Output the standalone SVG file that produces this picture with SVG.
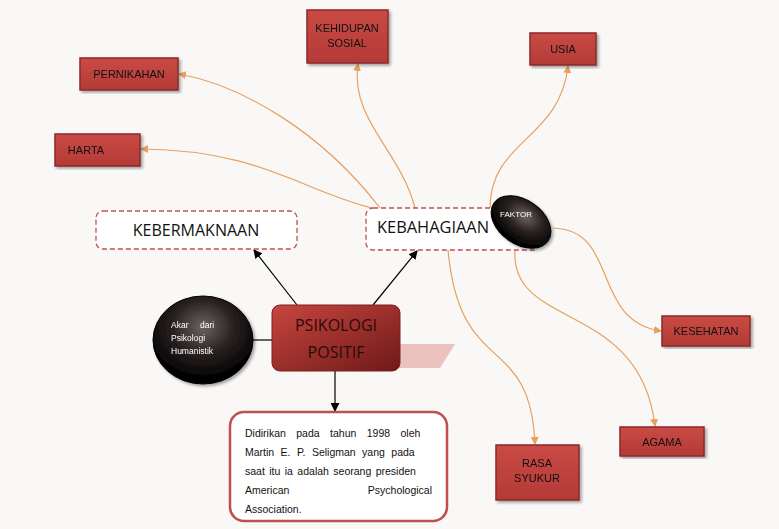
<svg xmlns="http://www.w3.org/2000/svg" width="779" height="529" viewBox="0 0 779 529">
<defs>
<style>
.box{fill:url(#rg);stroke:#8a2a2a;stroke-width:1.5}
.lbl{font-family:"Liberation Sans",Arial,sans-serif;font-size:11px;fill:#111;text-anchor:middle}
.dash{fill:#fff;stroke:#c0504d;stroke-width:1.3;stroke-dasharray:5,3}
.oc{fill:none;stroke:#e8a060;stroke-width:1.2;marker-end:url(#oa)}
.bc{fill:none;stroke:#000;stroke-width:1.2;marker-end:url(#ba)}
</style>
<linearGradient id="rg" x1="0" y1="0" x2="0" y2="1"><stop offset="0" stop-color="#c94a45"/><stop offset="1" stop-color="#b43a36"/></linearGradient>
<linearGradient id="pg" x1="0" y1="0" x2="1" y2="1"><stop offset="0" stop-color="#c8453f"/><stop offset="1" stop-color="#6e1a18"/></linearGradient>
<radialGradient id="eg" cx="0.5" cy="0.35" r="0.6"><stop offset="0" stop-color="#6b6462"/><stop offset="0.5" stop-color="#2a2222"/><stop offset="1" stop-color="#000"/></radialGradient>
<marker id="oa" markerWidth="8" markerHeight="8" refX="7" refY="4" orient="auto" markerUnits="userSpaceOnUse"><path d="M0,0L8,4L0,8z" fill="#e8a060"/></marker>
<marker id="ba" markerWidth="9" markerHeight="9" refX="8" refY="4.5" orient="auto" markerUnits="userSpaceOnUse"><path d="M0,0L9,4.5L0,9z" fill="#000"/></marker>
<filter id="sh"><feDropShadow dx="2" dy="2" stdDeviation="1.5" flood-opacity="0.35"/></filter>
</defs>
<rect width="779" height="529" fill="#f9f8f6"/>
<g id="connectors">
<path class="oc" d="M415,208 C400,150 350,120 358,64"/>
<path class="oc" d="M490,208 C490,140 560,140 568,66"/>
<path class="oc" d="M380,208 C320,130 240,85 179,74"/>
<path class="oc" d="M372,208 C300,190 260,150 141,149"/>
<path class="oc" d="M448,250 C460,380 530,330 535,444"/>
<path class="oc" d="M515,250 C510,330 640,300 655,426"/>
<path class="oc" d="M553,228 C620,230 590,320 661,331"/>
<path class="bc" d="M297,305 L254,250"/>
<path class="bc" d="M373,305 L417,251"/>
<path class="bc" d="M335,371 L335,411"/>
<path d="M253,340 L272,340" stroke="#000" stroke-width="1.2"/>
</g>
<g id="kehidupan" filter="url(#sh)"><rect class="box" x="307" y="10" width="81" height="53"/><text class="lbl" x="347" y="32">KEHIDUPAN</text><text class="lbl" x="347" y="47">SOSIAL</text></g>
<g id="usia" filter="url(#sh)"><rect class="box" x="530" y="33" width="66" height="32"/><text class="lbl" x="563" y="53">USIA</text></g>
<g id="pernikahan" filter="url(#sh)"><rect class="box" x="80" y="58" width="98" height="32"/><text class="lbl" x="129" y="78">PERNIKAHAN</text></g>
<g id="harta" filter="url(#sh)"><rect class="box" x="55" y="134" width="85" height="32"/><text class="lbl" x="86" y="154">HARTA</text></g>
<g id="kebermaknaan"><rect class="dash" x="96" y="211" width="201" height="38" rx="7"/><text x="196" y="236" font-family="'Open Sans','Liberation Sans',sans-serif" font-size="16" text-anchor="middle" fill="#111">KEBERMAKNAAN</text></g>
<g id="kebahagiaan"><rect class="dash" x="366" y="208" width="174" height="42" rx="7"/><text x="377" y="233" textLength="112" lengthAdjust="spacingAndGlyphs" font-family="'Open Sans','Liberation Sans',sans-serif" font-size="16" fill="#111">KEBAHAGIAAN</text></g>
<g id="faktor" filter="url(#sh)"><ellipse cx="521" cy="222" rx="33" ry="22" transform="rotate(35 521 222)" fill="url(#eg)" stroke="#000"/><text x="516" y="217" font-family="'Liberation Sans',sans-serif" font-size="8" fill="#fff" text-anchor="middle">FAKTOR</text></g>
<g id="psikologi">
<path d="M395,344 L455,344 L440,368 L395,368z" fill="#e8b4b2" opacity="0.8"/>
<rect x="272" y="305" width="128" height="66" rx="8" fill="url(#pg)" stroke="#7a2020"/>
<text x="336" y="331" font-family="'Open Sans','Liberation Sans',sans-serif" font-size="16" text-anchor="middle" fill="#2a0a0a">PSIKOLOGI</text>
<text x="336" y="358" font-family="'Open Sans','Liberation Sans',sans-serif" font-size="16" text-anchor="middle" fill="#2a0a0a">POSITIF</text>
</g>
<g id="akar" filter="url(#sh)"><ellipse cx="203" cy="340" rx="50" ry="44" fill="url(#eg)" stroke="#000"/>
<text font-family="'Liberation Sans',sans-serif" font-size="8.5" fill="#fff"><tspan x="171" y="328">Akar</tspan><tspan x="200" y="328">dari</tspan><tspan x="171" y="341">Psikologi</tspan><tspan x="171" y="354">Humanistik</tspan></text></g>
<g id="info"><rect x="230" y="412" width="217" height="109" rx="14" fill="#fff" stroke="#c0504d" stroke-width="2.5"/>
<text font-family="'Liberation Sans',sans-serif" font-size="10.5" fill="#111"><tspan x="245" y="437" word-spacing="7.5">Didirikan pada tahun 1998 oleh</tspan><tspan x="245" y="456" word-spacing="3.5">Martin E. P. Seligman yang pada</tspan><tspan x="245" y="475" word-spacing="1.5">saat itu ia adalah seorang presiden</tspan><tspan x="245" y="494">American</tspan><tspan x="432" y="494" text-anchor="end">Psychological</tspan><tspan x="245" y="513">Association.</tspan></text></g>
<g id="kesehatan" filter="url(#sh)"><rect class="box" x="662" y="316" width="88" height="30"/><text class="lbl" x="706" y="335">KESEHATAN</text></g>
<g id="agama" filter="url(#sh)"><rect class="box" x="620" y="427" width="84" height="29"/><text class="lbl" x="662" y="446">AGAMA</text></g>
<g id="rasa" filter="url(#sh)"><rect class="box" x="496" y="445" width="83" height="55"/><text class="lbl" x="537" y="467">RASA</text><text class="lbl" x="537" y="482">SYUKUR</text></g>
</svg>
